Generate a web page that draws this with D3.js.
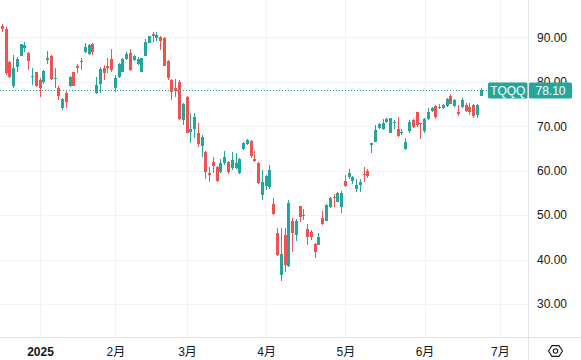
<!DOCTYPE html>
<html>
<head>
<meta charset="utf-8">
<script src="https://cdn.jsdelivr.net/npm/d3@7"></script>
<style>
  html, body { margin: 0; padding: 0; background: #fff; }
  svg { display: block; font-family: "Liberation Sans", Arial, "Noto Sans CJK SC", sans-serif; }
</style>
</head>
<body>
<svg id="chart" width="581" height="360"></svg>
<script>
// ---- data ----
const symbol = "TQQQ";
const dates = [
  "2024-12-17","2024-12-18","2024-12-19","2024-12-20","2024-12-23","2024-12-24","2024-12-26","2024-12-27","2024-12-30","2024-12-31",
  "2025-01-02","2025-01-03","2025-01-06","2025-01-07","2025-01-08","2025-01-10","2025-01-13","2025-01-14","2025-01-15","2025-01-16",
  "2025-01-17","2025-01-21","2025-01-22","2025-01-23","2025-01-24","2025-01-27","2025-01-28","2025-01-29","2025-01-30","2025-01-31",
  "2025-02-03","2025-02-04","2025-02-05","2025-02-06","2025-02-07","2025-02-10","2025-02-11","2025-02-12","2025-02-13","2025-02-14",
  "2025-02-18","2025-02-19","2025-02-20","2025-02-21","2025-02-24","2025-02-25","2025-02-26","2025-02-27","2025-02-28",
  "2025-03-03","2025-03-04","2025-03-05","2025-03-06","2025-03-07","2025-03-10","2025-03-11","2025-03-12","2025-03-13","2025-03-14",
  "2025-03-17","2025-03-18","2025-03-19","2025-03-20","2025-03-21","2025-03-24","2025-03-25","2025-03-26","2025-03-27","2025-03-28","2025-03-31",
  "2025-04-01","2025-04-02","2025-04-03","2025-04-04","2025-04-07","2025-04-08","2025-04-09","2025-04-10","2025-04-11","2025-04-14",
  "2025-04-15","2025-04-16","2025-04-17","2025-04-21","2025-04-22","2025-04-23","2025-04-24","2025-04-25","2025-04-28","2025-04-29","2025-04-30",
  "2025-05-01","2025-05-02","2025-05-05","2025-05-06","2025-05-07","2025-05-08","2025-05-09","2025-05-12","2025-05-13","2025-05-14",
  "2025-05-15","2025-05-16","2025-05-19","2025-05-20","2025-05-21","2025-05-22","2025-05-23","2025-05-27","2025-05-28","2025-05-29","2025-05-30",
  "2025-06-02","2025-06-03","2025-06-04","2025-06-05","2025-06-06","2025-06-09","2025-06-10","2025-06-11","2025-06-12","2025-06-13",
  "2025-06-16","2025-06-17","2025-06-18","2025-06-20","2025-06-23","2025-06-24"
];
// future trading sessions (empty slots on the time axis)
const futureDates = ["2025-06-25","2025-06-26","2025-06-27","2025-06-30","2025-07-01","2025-07-02","2025-07-03","2025-07-07","2025-07-08","2025-07-09","2025-07-10","2025-07-11"];

const open = [
  92.6,91.9,84.4,79.1,83.4,85.9,87.6,86.5,81.1,82.1,
  80.5,79.9,84.9,85.9,80.7,78.7,74.0,77.5,79.1,82.1,
  83.6,84.4,86.6,86.2,88.5,77.5,79.6,83.0,83.5,85.05,
  78.5,81.0,82.3,85.05,86.4,84.9,83.9,82.3,85.9,88.8,
  90.75,89.9,90.0,89.9,84.7,80.4,78.7,79.9,71.4,
  76.6,68.8,69.4,68.5,65.55,64.3,59.5,62.0,60.9,59.8,
  61.65,62.0,60.5,60.5,59.5,64.8,66.0,66.7,62.6,61.8,54.5,
  56.55,56.3,52.5,46.0,36.5,45.5,38.55,48.7,45.5,52.05,
  50.0,46.8,46.3,43.5,43.3,49.4,48.75,51.75,54.15,53.0,51.9,
  57.7,58.6,57.7,55.9,56.8,59.25,59.9,65.8,66.5,69.5,
  69.3,70.9,68.4,70.65,69.3,68.5,64.8,68.9,71.3,73.1,70.65,
  69.0,71.6,73.45,74.55,74.1,74.0,74.55,76.8,74.55,73.2,
  74.25,74.75,74.4,74.75,72.5,76.9
];
const high = [
  93.0,92.4,84.6,86.0,85.5,88.6,88.9,86.8,83.0,82.3,
  80.8,82.6,86.9,86.1,83.0,79.0,76.4,78.1,81.3,82.3,
  84.0,85.3,88.8,88.6,88.7,81.1,83.4,83.8,85.3,87.3,
  81.5,84.15,85.3,86.6,87.3,86.1,85.5,85.4,89.6,90.4,
  91.1,91.3,90.3,90.0,84.9,80.6,80.6,80.4,75.3,
  76.8,72.9,72.9,70.8,68.0,64.4,60.9,63.0,61.0,62.55,
  64.4,62.2,64.3,63.9,62.8,66.5,67.2,66.9,64.4,61.9,60.1,
  59.0,61.3,53.9,47.0,47.0,47.0,53.4,49.4,49.1,52.1,
  51.3,48.0,46.65,43.8,45.9,50.95,52.5,54.15,54.75,55.1,55.4,
  59.0,60.3,58.8,58.1,58.2,60.75,60.3,66.3,70.3,70.8,
  71.55,71.8,71.9,71.4,72.15,69.3,67.3,71.3,71.55,73.2,70.8,
  71.8,74.0,74.4,74.75,75.0,74.9,76.4,77.2,76.1,74.75,
  76.3,75.15,75.15,75.0,75.0,78.5
];
const low = [
  91.3,81.5,80.8,78.7,82.1,85.8,86.6,82.6,79.3,78.9,
  76.6,79.6,84.1,80.5,78.5,76.0,73.6,74.0,78.9,79.0,
  82.0,82.6,86.5,86.0,86.0,77.2,77.4,80.5,81.9,82.3,
  77.8,80.9,82.2,84.9,82.4,84.7,83.7,82.2,85.8,88.7,
  89.0,89.2,87.1,83.5,80.5,75.9,76.6,71.4,70.3,
  68.4,66.3,67.3,65.4,63.0,58.1,57.5,59.4,57.5,59.5,
  61.3,59.25,60.1,60.3,59.25,64.7,65.8,62.8,61.9,57.0,53.4,
  55.7,55.8,50.1,40.9,35.2,37.3,38.4,41.8,44.1,48.5,
  48.9,43.3,44.4,40.4,43.2,47.8,48.6,51.5,51.75,52.9,50.5,
  56.4,58.1,57.0,55.3,55.3,57.5,58.4,64.05,66.4,69.4,
  69.15,70.65,68.4,69.3,67.5,68.0,64.7,68.55,69.7,69.9,67.05,
  68.55,71.5,73.1,71.55,73.8,73.9,74.4,74.9,74.4,72.4,
  74.0,73.1,72.5,71.9,71.8,76.8
];
const close = [
  91.9,81.9,81.0,83.2,85.1,88.4,88.3,84.7,81.3,79.1,
  78.5,82.4,85.4,80.6,80.9,76.8,76.1,75.5,81.0,79.1,
  83.0,84.6,87.75,88.3,86.6,79.3,82.9,82.0,83.0,82.6,
  80.9,83.9,85.05,86.25,82.6,85.8,85.05,85.3,89.0,90.3,
  90.4,90.5,89.2,83.6,80.8,77.8,78.0,71.6,75.0,
  68.5,69.3,72.1,66.0,67.6,59.8,59.0,61.0,57.7,61.8,
  63.1,59.8,62.4,61.8,62.55,66.3,66.9,63.3,62.2,57.3,57.5,
  58.8,60.1,50.25,41.0,41.25,38.8,52.65,45.9,48.7,49.6,
  49.8,45.1,45.0,41.8,45.1,48.0,52.3,53.8,53.9,54.9,55.05,
  56.55,59.5,58.5,56.8,57.5,59.0,58.8,66.15,69.15,70.5,
  70.8,71.55,71.8,70.9,67.8,68.6,66.5,71.05,69.9,70.3,70.4,
  71.6,73.25,74.1,72.1,74.4,74.75,76.1,75.0,75.9,72.75,
  76.0,73.5,73.25,72.4,74.75,78.1
];
const lastPriceLabel = "78.10";
const yTicks = [30, 40, 50, 60, 70, 80, 90];
const xTickDates = ["2025-01-02","2025-02-03","2025-03-03","2025-04-01","2025-05-01","2025-06-02","2025-07-01"];
const xTickLabels = ["2025","2月","3月","4月","5月","6月","7月"];

// ---- layout ----
const W = 581, H = 360;
const plotRight = 528, plotBottom = 337;
const step = 3.77, firstCenter = 2.3;
const upColor = "#26a69a", downColor = "#ef5350";
const gridColor = "#f0f2f5", borderColor = "#e0e3eb", textColor = "#131722";

const allDates = dates.concat(futureDates);
const x = d3.scaleLinear().domain([0, 1]).range([firstCenter, firstCenter + step]);
const y = d3.scaleLinear().domain([30, 90]).range([304, 37.3]);

const svg = d3.select("#chart");
svg.append("rect").attr("width", W).attr("height", H).attr("fill", "#fff");

// grid
const grid = svg.append("g");
grid.selectAll("line.h").data(yTicks).join("line")
  .attr("x1", 0).attr("x2", plotRight)
  .attr("y1", d => Math.round(y(d)) + 0.5).attr("y2", d => Math.round(y(d)) + 0.5)
  .attr("stroke", gridColor).attr("stroke-width", 1);
grid.selectAll("line.v").data(xTickDates).join("line")
  .attr("x1", d => Math.round(x(allDates.indexOf(d))) + 0.5)
  .attr("x2", d => Math.round(x(allDates.indexOf(d))) + 0.5)
  .attr("y1", 0).attr("y2", plotBottom)
  .attr("stroke", gridColor).attr("stroke-width", 1);

// candles
const candles = dates.map((d, i) => ({ i, o: open[i], h: high[i], l: low[i], c: close[i] }));
const cg = svg.append("g");
candles.forEach(d => {
  const cx = x(d.i);
  const bx = Math.round(cx - 1.5);
  const col = d.c >= d.o ? upColor : downColor;
  const yh = Math.round(y(d.h)), yl = Math.round(y(d.l));
  cg.append("rect").attr("x", bx + 1).attr("y", yh).attr("width", 1).attr("height", Math.max(1, yl - yh)).attr("fill", col);
  const yt = Math.round(y(Math.max(d.o, d.c))), yb = Math.round(y(Math.min(d.o, d.c)));
  cg.append("rect").attr("x", bx).attr("y", yt).attr("width", 3).attr("height", Math.max(1, yb - yt)).attr("fill", col);
});

// last price dotted line
const lastY = Math.round(y(close[close.length - 1])) + 0.5;
svg.append("line").attr("x1", 0).attr("x2", 488).attr("y1", lastY).attr("y2", lastY)
  .attr("stroke", upColor).attr("stroke-width", 1).attr("stroke-dasharray", "1,2");

// axis borders
svg.append("line").attr("x1", plotRight + 0.5).attr("x2", plotRight + 0.5).attr("y1", 0).attr("y2", H)
  .attr("stroke", borderColor);
svg.append("line").attr("x1", 0).attr("x2", W).attr("y1", plotBottom + 0.5).attr("y2", plotBottom + 0.5)
  .attr("stroke", borderColor);

// y labels
svg.append("g").selectAll("text").data(yTicks).join("text")
  .attr("x", 537).attr("y", d => y(d) + 4.3)
  .attr("font-size", 12).attr("fill", textColor)
  .text(d => d3.format(".2f")(d));

// x labels
svg.append("g").selectAll("text").data(xTickDates).join("text")
  .attr("x", d => x(allDates.indexOf(d)) + 0.5).attr("y", 355.5)
  .attr("text-anchor", "middle").attr("font-size", 12).attr("fill", textColor)
  .attr("font-weight", (d, i) => i === 0 ? "bold" : "normal")
  .text((d, i) => xTickLabels[i]);

// symbol + price labels
const labY = 82.5, labH = 16;
svg.append("rect").attr("x", 488).attr("y", labY).attr("width", 39.5).attr("height", labH)
  .attr("fill", upColor).attr("rx", 1.5);
svg.append("text").attr("x", 507.8).attr("y", labY + 12.2).attr("text-anchor", "middle")
  .attr("font-size", 12).attr("fill", "#fff").text(symbol);
svg.append("rect").attr("x", 529).attr("y", labY).attr("width", 43).attr("height", labH)
  .attr("fill", upColor).attr("rx", 1.5);
svg.append("text").attr("x", 550.5).attr("y", labY + 12.2).attr("text-anchor", "middle")
  .attr("font-size", 12).attr("fill", "#fff").text(lastPriceLabel);

// settings icon
const icx = 555.5, icy = 351;
const hex = d3.range(6).map(k => {
  const a = Math.PI / 3 * k;
  return [icx + 7 * Math.cos(a), icy + 6.2 * Math.sin(a)];
});
svg.append("path").attr("d", d3.line()(hex) + "Z").attr("fill", "none")
  .attr("stroke", textColor).attr("stroke-width", 1.1);
svg.append("circle").attr("cx", icx).attr("cy", icy).attr("r", 2.2).attr("fill", "none")
  .attr("stroke", textColor).attr("stroke-width", 1.1);
</script>
</body>
</html>
